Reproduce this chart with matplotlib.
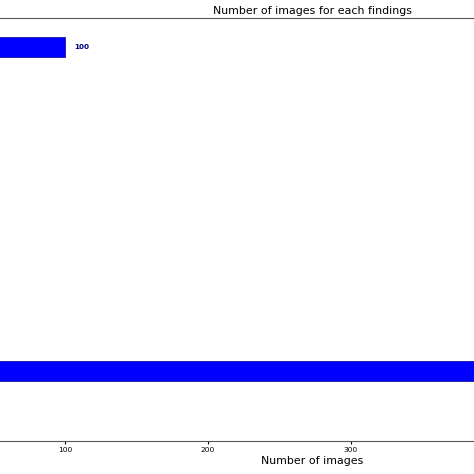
import matplotlib
matplotlib.use("Agg")
import matplotlib.pyplot as plt

# findings and number of images (only two bars reach the visible area)
findings = ["Finding A", "Finding B", "Finding C", "Finding D", "Finding E",
            "Finding F", "Finding G", "Finding H", "Finding I", "Finding J"]
counts = [100, 30, 25, 20, 18, 15, 12, 10, 520, 8]

fig = plt.figure(figsize=(4.74, 4.74), dpi=100)
# the visible picture is a crop of a wider axes
ax = fig.add_axes([-0.1646, 0.0696, 1.646, 0.8924])

ax.barh(findings, counts, height=0.5, color="blue", edgecolor="#00008b", linewidth=0.5)
ax.invert_yaxis()
for i, v in enumerate(counts):
    ax.text(v + 6.5, i, str(v), color="darkblue", fontweight="bold",
            fontsize=5.2, va="center")

ax.set_title("Number of images for each findings", fontsize=7.9, pad=3)
ax.set_xlabel("Number of images", fontsize=7.9, labelpad=2.5)
ax.tick_params(axis="x", labelsize=5.4, length=2, pad=2.2)
ax.tick_params(axis="y", labelsize=5)
for s in ["left", "right", "top", "bottom"]:
    ax.spines[s].set_color("#555555")

fig.savefig("out.png", dpi=100)
